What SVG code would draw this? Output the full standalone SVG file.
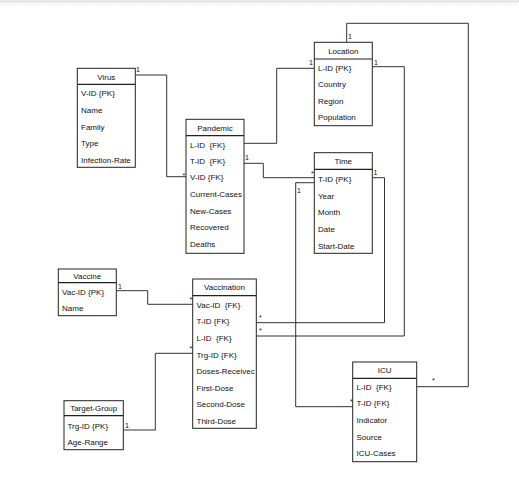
<svg xmlns="http://www.w3.org/2000/svg" width="519" height="482" viewBox="0 0 519 482">
<defs>
<style>
.box{fill:#fff;stroke:#222;stroke-width:1}
.sep{stroke:#222;stroke-width:1.2}
text{font-family:"Liberation Sans",Arial,sans-serif;font-size:8px;fill:#111;white-space:pre}
.h{text-anchor:middle}
.c{fill:none;stroke:#333;stroke-width:1}
.lbl{font-size:7px}
</style>
</defs>
<rect x="0" y="0" width="519" height="3" fill="#e8e8e8"/>
<line x1="0" y1="4.5" x2="519" y2="4.5" stroke="#e4e4e4" stroke-width="1" stroke-dasharray="1,2"/>
<g id="connectors">
<polyline class="c" points="135.3,75 166.7,75 166.7,176.7 186,176.7"/>
<polyline class="c" points="244,143.3 276.7,143.3 276.7,68.3 314.3,68.3"/>
<polyline class="c" points="244,163.3 263.3,163.3 263.3,177.7 314.3,177.7"/>
<polyline class="c" points="372.3,177.7 384.5,177.7 384.5,322.7 256.3,322.7"/>
<polyline class="c" points="372.3,66.7 404.3,66.7 404.3,336 256.3,336"/>
<polyline class="c" points="346.7,42.3 346.7,23.3 468.3,23.3 468.3,386.7 416.7,386.7"/>
<polyline class="c" points="314.3,182.7 295.7,182.7 295.7,406.7 352.7,406.7"/>
<polyline class="c" points="116.3,290.7 147.7,290.7 147.7,304.3 192.7,304.3"/>
<polyline class="c" points="123.3,430 155.3,430 155.3,353.3 192.7,353.3"/>
<text class="lbl" x="136" y="72">1</text>
<text class="lbl" x="182.5" y="178">*</text>
<text class="lbl" x="241" y="140">*</text>
<text class="lbl" x="309" y="65">1</text>
<text class="lbl" x="245" y="160">1</text>
<text class="lbl" x="311" y="176">*</text>
<text class="lbl" x="373.5" y="175">1</text>
<text class="lbl" x="259" y="320">*</text>
<text class="lbl" x="374" y="65">1</text>
<text class="lbl" x="259" y="333">*</text>
<text class="lbl" x="348" y="39">1</text>
<text class="lbl" x="432" y="383">*</text>
<text class="lbl" x="297" y="193">1</text>
<text class="lbl" x="350" y="404">*</text>
<text class="lbl" x="118" y="289">1</text>
<text class="lbl" x="189.5" y="302">*</text>
<text class="lbl" x="125" y="428">1</text>
<text class="lbl" x="189.5" y="351">*</text>
</g>
<g id="virus">
<rect class="box" x="77.3" y="68.3" width="58" height="99"/>
<line class="sep" x1="77.3" y1="84.3" x2="135.3" y2="84.3"/>
<text class="h" x="106.3" y="79.5">Virus</text>
<text x="81" y="96">V-ID {PK}</text>
<text x="81" y="113">Name</text>
<text x="81" y="129.5">Famliy</text>
<text x="81" y="146">Type</text>
<text x="81" y="163">Infection-Rate</text>
</g>
<g id="pandemic">
<rect class="box" x="186" y="119.3" width="58" height="134"/>
<line class="sep" x1="186" y1="135.7" x2="244" y2="135.7"/>
<text class="h" x="215" y="130.5">Pandemic</text>
<text x="190" y="148">L-ID  {FK}</text>
<text x="190" y="163.5">T-ID  {FK}</text>
<text x="190" y="180">V-ID {FK}</text>
<text x="190" y="197">Current-Cases</text>
<text x="190" y="213.5">New-Cases</text>
<text x="190" y="230">Recovered</text>
<text x="190" y="246.5">Deaths</text>
</g>
<g id="location">
<rect class="box" x="314.3" y="42.3" width="58" height="83.4"/>
<line class="sep" x1="314.3" y1="59" x2="372.3" y2="59"/>
<text class="h" x="343.3" y="53.5">Location</text>
<text x="318" y="71">L-ID {PK}</text>
<text x="318" y="87">Country</text>
<text x="318" y="104">Region</text>
<text x="318" y="120">Population</text>
</g>
<g id="time">
<rect class="box" x="314.3" y="152.7" width="58" height="100.6"/>
<line class="sep" x1="314.3" y1="169.3" x2="372.3" y2="169.3"/>
<text class="h" x="343.3" y="164">Time</text>
<text x="318" y="182">T-ID {PK}</text>
<text x="318" y="198.5">Year</text>
<text x="318" y="215">Month</text>
<text x="318" y="232">Date</text>
<text x="318" y="248.5">Start-Date</text>
</g>
<g id="vaccine">
<rect class="box" x="58.3" y="269" width="58" height="46.7"/>
<line class="sep" x1="58.3" y1="282.7" x2="116.3" y2="282.7"/>
<text class="h" x="87.3" y="278.5">Vaccine</text>
<text x="62" y="295">Vac-ID {PK}</text>
<text x="62" y="311">Name</text>
</g>
<g id="vaccination">
<rect class="box" x="192.7" y="279" width="63.6" height="149.3"/>
<line class="sep" x1="192.7" y1="295.7" x2="256.3" y2="295.7"/>
<text class="h" x="224.5" y="290">Vaccination</text>
<text x="196.5" y="308">Vac-ID  {FK}</text>
<text x="196.5" y="324">T-ID {FK}</text>
<text x="196.5" y="341">L-ID  {FK}</text>
<text x="196.5" y="357.5">Trg-ID {FK}</text>
<text x="196.5" y="374">Doses-Receivec</text>
<text x="196.5" y="390.5">First-Dose</text>
<text x="196.5" y="407">Second-Dose</text>
<text x="196.5" y="424">Third-Dose</text>
</g>
<g id="target-group">
<rect class="box" x="64" y="400.7" width="59.3" height="49"/>
<line class="sep" x1="64" y1="415.7" x2="123.3" y2="415.7"/>
<text class="h" x="93.7" y="411">Target-Group</text>
<text x="67.5" y="428.5">Trg-ID {PK}</text>
<text x="67.5" y="445">Age-Range</text>
</g>
<g id="icu">
<rect class="box" x="352.7" y="362" width="64" height="99.7"/>
<line class="sep" x1="352.7" y1="378.3" x2="416.7" y2="378.3"/>
<text class="h" x="384.7" y="373">ICU</text>
<text x="356.5" y="390">L-ID  {FK}</text>
<text x="356.5" y="406">T-ID {FK}</text>
<text x="356.5" y="423">Indicator</text>
<text x="356.5" y="439.5">Source</text>
<text x="356.5" y="456">ICU-Cases</text>
</g>
</svg>
